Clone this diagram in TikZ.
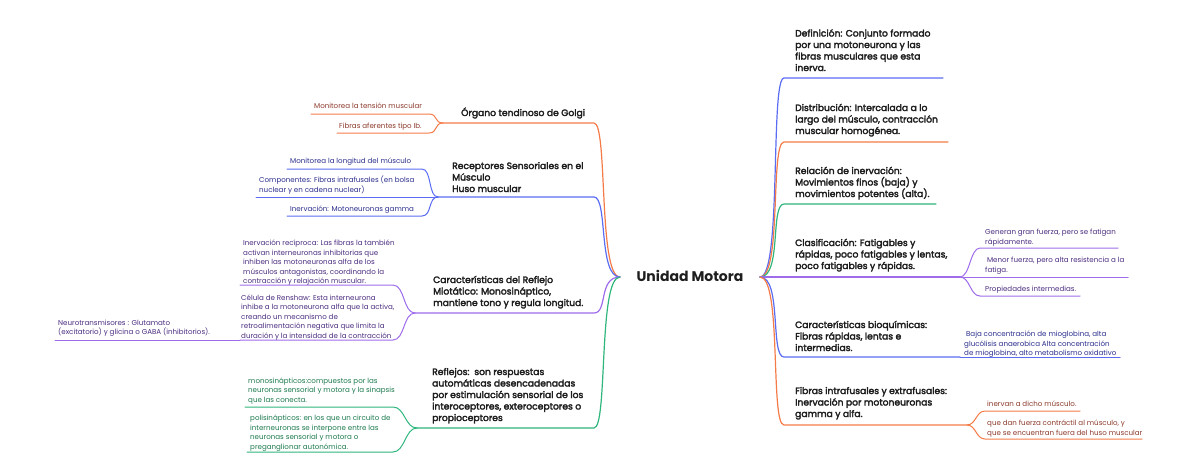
\documentclass[tikz,border=0pt]{standalone}
\usepackage{fontspec}
\setmainfont{Poppins}
\newfontfamily\headfont{Poppins}[FakeBold=3]
\usepackage{tikz}
\usetikzlibrary{positioning}
\definecolor{ink}{HTML}{1E1E1E}
\definecolor{cOrange}{HTML}{F47B47}
\definecolor{cBlue}{HTML}{5A6CF2}
\definecolor{cPurple}{HTML}{9E6CEB}
\definecolor{cGreen}{HTML}{2EB67D}
\definecolor{tOrange}{HTML}{8C3A2B}
\definecolor{tBlue}{HTML}{2B2E8C}
\definecolor{tPurple}{HTML}{4B2D7F}
\definecolor{tGreen}{HTML}{1C7A4E}

\begin{document}
\begin{tikzpicture}[x=1pt, y=-1pt,
    root/.style={font=\bfseries\fontsize{14}{17}\selectfont, text=ink, inner sep=0pt},
    head/.style={font=\headfont\fontsize{9.2}{11.5}\selectfont, text=ink, align=left,
                 anchor=base west, inner sep=0pt},
    leaf/.style={font=\fontsize{7.1}{9.5}\selectfont, align=left, anchor=base west,
                 inner sep=0pt},
    br/.style={line width=1.2pt, line cap=round},
    sub/.style={line width=1pt, line cap=round},
  ]
    \useasboundingbox (0,0) rectangle (1200,475);

    % centre
    \node[root] (unidad) at (690,276) {Unidad Motora};
    \coordinate (L) at (620,277);
    \coordinate (R) at (760,277);

    % left main branches -- curve from the centre, then underline
    \coordinate (golgiC) at (594,123);  \coordinate (golgiJ) at (443,123);
    \coordinate (husoC)  at (594,197);  \coordinate (husoJ)  at (438,197);
    \coordinate (miotC)  at (594,313);  \coordinate (miotJ)  at (415,313);
    \coordinate (reflC)  at (594,428);  \coordinate (reflJ)  at (417,428);
    \draw[br, cOrange] (L) .. controls +(-22,0) and +(14,0) .. (golgiC) -- (golgiJ);
    \draw[br, cBlue]   (L) .. controls +(-22,0) and +(14,0) .. (husoC) -- (husoJ);
    \draw[br, cPurple] (L) .. controls +(-22,0) and +(14,0) .. (miotC) -- (miotJ);
    \draw[br, cGreen]  (L) .. controls +(-22,0) and +(14,0) .. (reflC) -- (reflJ);

    % (multi-line nodes: y is the baseline of the last line)
    \node[head] (golgi) at (461,116) {Órgano tendinoso de Golgi};
    \node[head] (huso) at (452,192) {Receptores Sensoriales en el\\Músculo\\Huso muscular};
    \node[head] (miot) at (433,306) {Características del Reflejo\\Miotático: Monosináptico,\\mantiene tono y regula longitud.};
    \node[head] (refl) at (432,421) {Reflejos:\ \ son respuestas\\automáticas desencadenadas\\por estimulación sensorial de los\\interoceptores, exteroceptores o\\propioceptores};

    % right main branches
    \coordinate (defC)  at (784,78);   \coordinate (defE)  at (943,78);
    \coordinate (distC) at (784,142);  \coordinate (distE) at (948,142);
    \coordinate (relC)  at (784,204);  \coordinate (relE)  at (936,204);
    \coordinate (clasJ) at (960,277);
    \coordinate (bioC)  at (784,357);  \coordinate (bioJ)  at (960,357);
    \coordinate (fibC)  at (784,425);  \coordinate (fibJ)  at (967,425);
    \draw[br, cBlue]   (R) .. controls +(22,0) and +(-14,0) .. (defC) -- (defE);
    \draw[br, cOrange] (R) .. controls +(22,0) and +(-14,0) .. (distC) -- (distE);
    \draw[br, cGreen]  (R) .. controls +(22,0) and +(-14,0) .. (relC) -- (relE);
    \draw[br, cPurple] (R) -- (clasJ);
    \draw[br, cBlue]   (R) .. controls +(22,0) and +(-14,0) .. (bioC) -- (bioJ);
    \draw[br, cOrange] (R) .. controls +(22,0) and +(-14,0) .. (fibC) -- (fibJ);

    \node[head] (def) at (795,71) {Definición: Conjunto formado\\por una motoneurona y las\\fibras musculares que esta\\inerva.};
    \node[head] (dist) at (795,134) {Distribución: Intercalada a lo\\largo del músculo, contracción\\muscular homogénea.};
    \node[head] (rel) at (795,197) {Relación de inervación:\\Movimientos finos (baja) y\\movimientos potentes (alta).};
    \node[head] (clas) at (795,269) {Clasificación: Fatigables y\\rápidas, poco fatigables y lentas,\\poco fatigables y rápidas.};
    \node[head] (bio) at (795,351) {Características bioquímicas:\\Fibras rápidas, lentas e\\intermedias.};
    \node[head] (fib) at (795,417) {Fibras intrafusales y extrafusales:\\Inervación por motoneuronas\\gamma y alfa.};

    % left sub-branches
    \coordinate (tens)  at (429,114);  \coordinate (tensE)  at (311,114);
    \coordinate (afer)  at (429,133);  \coordinate (aferE)  at (337,133);
    \draw[sub, cOrange] (golgiJ) .. controls +(-9,0) and +(9,0) .. (tens) -- (tensE);
    \draw[sub, cOrange] (golgiJ) .. controls +(-9,0) and +(9,0) .. (afer) -- (aferE);
    \node[leaf, text=tOrange] (tensT) at (314,108.5) {Monitorea la tensión muscular};
    \node[leaf, text=tOrange] (aferT) at (339,128) {Fibras aferentes tipo Ib.};

    \coordinate (long)  at (422,169);  \coordinate (longE)  at (287,169);
    \coordinate (compE) at (256,197);
    \coordinate (gam)   at (422,216);  \coordinate (gamE)   at (287,216);
    \draw[sub, cBlue] (husoJ) .. controls +(-10,0) and +(10,0) .. (long) -- (longE);
    \draw[sub, cBlue] (husoJ) -- (compE);
    \draw[sub, cBlue] (husoJ) .. controls +(-10,0) and +(10,0) .. (gam) -- (gamE);
    \node[leaf, text=tBlue] (longT) at (290,163) {Monitorea la longitud del músculo};
    \node[leaf, text=tBlue] (compT) at (259,192) {Componentes: Fibras intrafusales (en bolsa\\nuclear y en cadena nuclear)};
    \node[leaf, text=tBlue] (gamT) at (290,211) {Inervación: Motoneuronas gamma};

    \coordinate (reci)  at (393,285);  \coordinate (reciE)  at (240,285);
    \coordinate (rens)  at (393,340);  \coordinate (rensJ)  at (240,340);
    \coordinate (neurE) at (55,340);
    \draw[sub, cPurple] (miotJ) .. controls +(-12,0) and +(12,0) .. (reci) -- (reciE);
    \draw[sub, cPurple] (miotJ) .. controls +(-12,0) and +(12,0) .. (rens) -- (rensJ);
    \draw[sub, cPurple] (rensJ) -- (neurE);
    \node[leaf, text=tPurple] (reciT) at (243,283.5) {Inervación recíproca: Las fibras la también\\activan interneuronas inhibitorias que\\inhiben las motoneuronas alfa de los\\músculos antagonistas, coordinando la\\contracción y relajación muscular.};
    \node[leaf, text=tPurple] (rensT) at (241,338) {Célula de Renshaw: Esta interneurona\\inhibe a la motoneurona alfa que la activa,\\creando un mecanismo de\\retroalimentación negativa que limita la\\duración y la intensidad de la contracción};
    \node[leaf, text=tPurple] (neurT) at (58,334.5) {Neurotransmisores : Glutamato\\(excitatorio) y glicina o GABA (inhibitorios).};

    \coordinate (mono)  at (393,407);  \coordinate (monoE)  at (245,407);
    \coordinate (poli)  at (393,452);  \coordinate (poliE)  at (247,452);
    \draw[sub, cGreen] (reflJ) .. controls +(-12,0) and +(12,0) .. (mono) -- (monoE);
    \draw[sub, cGreen] (reflJ) .. controls +(-12,0) and +(12,0) .. (poli) -- (poliE);
    \node[leaf, text=tGreen] (monoT) at (248,402) {monosinápticos:compuestos por las\\neuronas sensorial y motora y la sinapsis\\que las conecta.};
    \node[leaf, text=tGreen] (poliT) at (250,449) {polisinápticos: en los que un circuito de\\interneuronas se interpone entre las\\neuronas sensorial y motora o\\preganglionar autonómica.};

    % right sub-branches
    \coordinate (fati)  at (980,248);  \coordinate (fatiE)  at (1118,248);
    \coordinate (resiE) at (1128,277);
    \coordinate (inte)  at (980,296);  \coordinate (inteE)  at (1080,296);
    \draw[sub, cPurple] (clasJ) .. controls +(10,0) and +(-10,0) .. (fati) -- (fatiE);
    \draw[sub, cPurple] (clasJ) -- (resiE);
    \draw[sub, cPurple] (clasJ) .. controls +(10,0) and +(-10,0) .. (inte) -- (inteE);
    \node[leaf, text=tPurple] (fatiT) at (985,244) {Generan gran fuerza, pero se fatigan\\rápidamente.};
    \node[leaf, text=tPurple] (resiT) at (985,272) {\ Menor fuerza, pero alta resistencia a la\\fatiga.};
    \node[leaf, text=tPurple] (inteT) at (985,291) {Propiedades intermedias.};

    \coordinate (mioE) at (1120,357);
    \draw[sub, cBlue] (bioJ) -- (mioE);
    \node[leaf, text=tBlue] (mioT) at (964,355.5) {\ Baja concentración de mioglobina, alta\\glucólisis anaerobica Alta concentración\\de mioglobina, alto metabolismo oxidativo};

    \coordinate (dich)  at (985,411);  \coordinate (dichE)  at (1080,411);
    \coordinate (cont)  at (985,439);  \coordinate (contE)  at (1142,439);
    \draw[sub, cOrange] (fibJ) .. controls +(9,0) and +(-9,0) .. (dich) -- (dichE);
    \draw[sub, cOrange] (fibJ) .. controls +(9,0) and +(-9,0) .. (cont) -- (contE);
    \node[leaf, text=tOrange] (dichT) at (987,406) {inervan a dicho músculo.};
    \node[leaf, text=tOrange] (contT) at (987,435) {que dan fuerza contráctil al músculo, y\\que se encuentran fuera del huso muscular};
\end{tikzpicture}
\end{document}
